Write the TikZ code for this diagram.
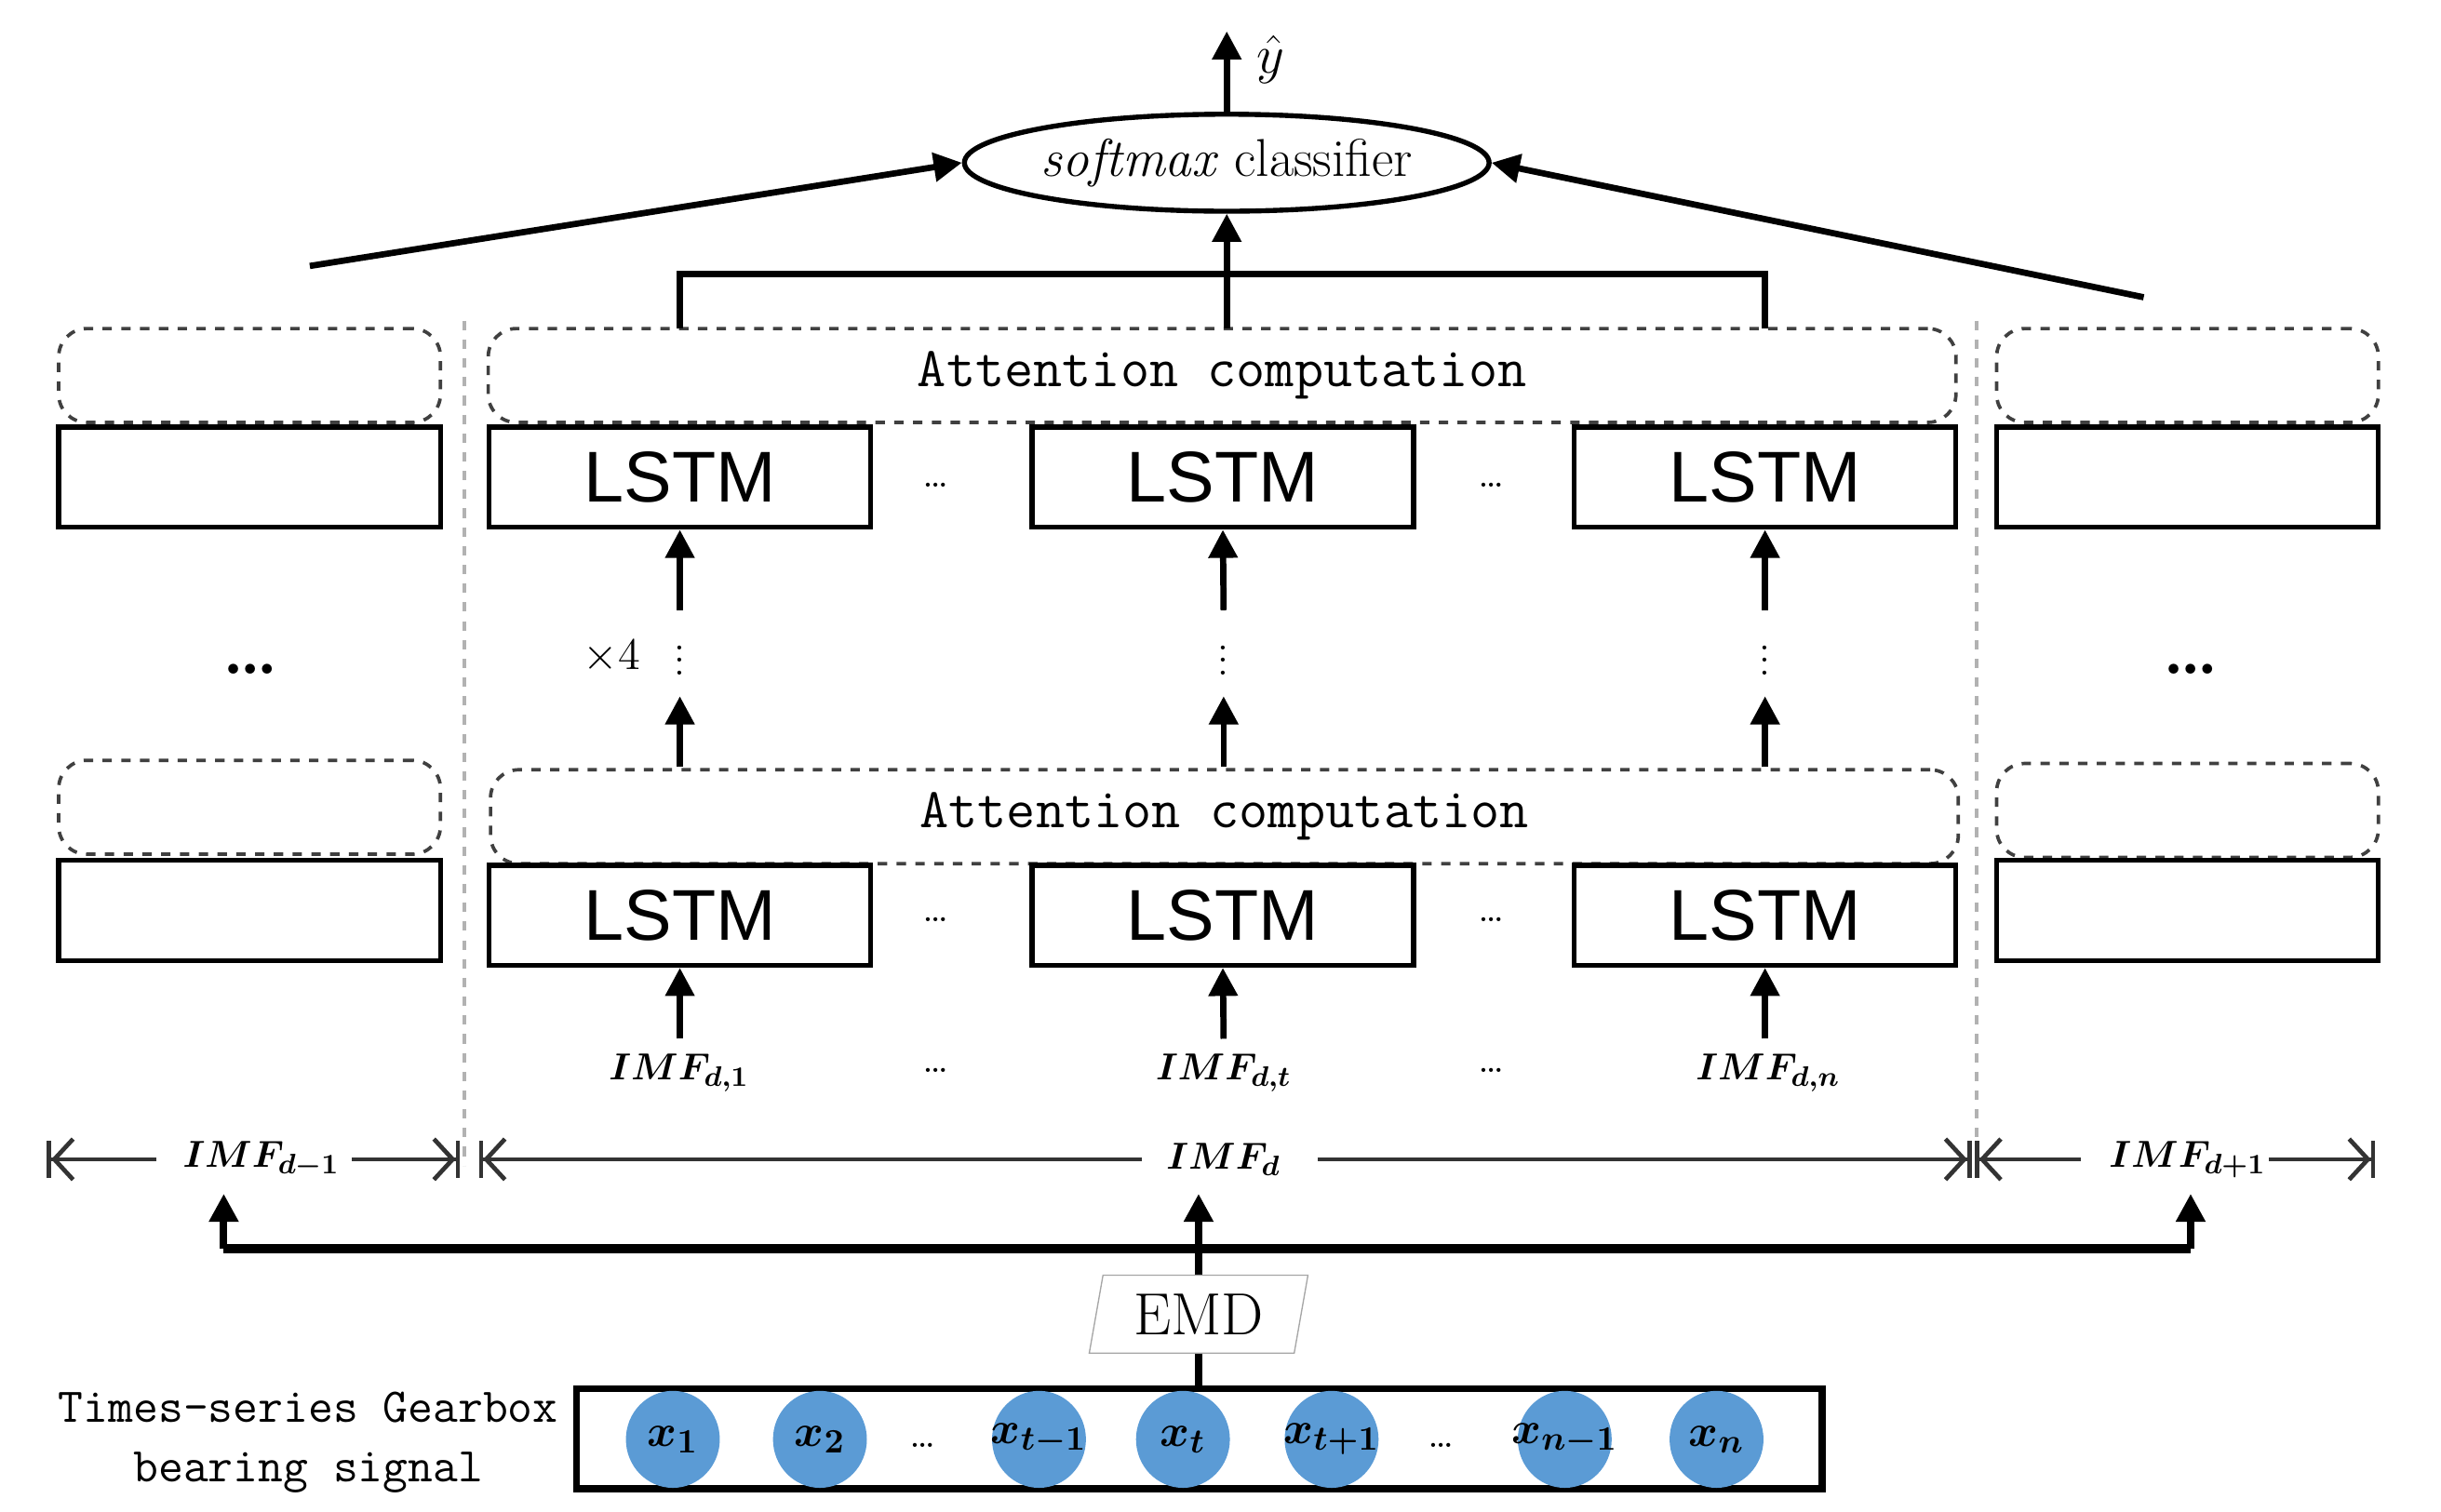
\documentclass[tikz,border=0pt]{standalone}
\usepackage{fontspec}
\usepackage{amsmath,bm}
\newfontfamily\lsans{Liberation Sans}
\usetikzlibrary{arrows.meta,shapes.geometric}
\definecolor{cblue}{HTML}{5B9BD5}
\begin{document}
\begin{tikzpicture}[x=0.5pt,y=-0.5pt,
 blk/.style={draw,line width=1.6pt,minimum width=122pt,minimum height=32pt,inner sep=0pt,font=\lsans\fontsize{23}{23}\selectfont},
 att/.style={draw=black!75,dashed,line width=1.1pt,rounded corners=9pt,inner sep=0pt,font=\ttfamily\fontsize{18}{18}\selectfont},
 arr/.style={-{Triangle[length=9pt,width=9pt]},line width=2pt},
 imf/.style={-{Straight Barb[length=6pt,width=13pt] Bar[width=12pt,sep=-5pt]},line width=1.4pt,draw=black!80},
 xc/.style={ellipse,fill=cblue,minimum width=30pt,minimum height=31pt,inner sep=0pt,font=\fontsize{15}{15}\selectfont},
 lab/.style={font=\fontsize{13}{13}\selectfont}]
\useasboundingbox (0,0) rectangle (1560,966);
% softmax
\node[ellipse,draw,line width=1.6pt,minimum width=162pt,minimum height=31pt,inner sep=0pt,fill=white,font=\fontsize{17}{17}\selectfont] (sm) at (784,104) {\textit{softmax} classifier};
\coordinate (yt) at (784,20);
\draw[arr] (sm.north) -- (yt);
\node[font=\fontsize{18}{18}\selectfont] (yh) at (812,38) {$\hat{y}$};
\coordinate (la) at (198,170); \coordinate (ra) at (1370,190);
\draw[arr] (la) -- (sm.west);
\draw[arr] (ra) -- (sm.east);
% attention boxes
\node[att,minimum width=469pt,minimum height=30pt] (at1) at (781,240) {Attention computation};
\node[att,minimum width=122pt,minimum height=30pt] (atl1) at (159.5,240) {};
\node[att,minimum width=122pt,minimum height=30pt] (atr1) at (1398,240) {};
\node[att,minimum width=469pt,minimum height=30pt] (at2) at (782.5,522) {Attention computation};
\node[att,minimum width=122pt,minimum height=30pt] (atl2) at (159.5,516) {};
\node[att,minimum width=122pt,minimum height=30pt] (atr2) at (1398,518) {};
% LSTM
\foreach \n/\x in {a/434.5,b/781.5,c/1128}{
 \node[blk] (t\n) at (\x,305) {LSTM};
 \node[blk] (b\n) at (\x,585) {LSTM};
}
\node[blk] (tl) at (159.5,305) {}; \node[blk] (tr) at (1398,305) {};
\node[blk] (bl) at (159.5,582) {}; \node[blk] (br) at (1398,582) {};
\foreach \x/\n in {598/1,953/2}{
 \node[font=\fontsize{13}{13}\selectfont] (td\n) at (\x,310) {\dots};
 \node[font=\fontsize{13}{13}\selectfont] (bd\n) at (\x,588) {\dots};
 \node[font=\fontsize{13}{13}\selectfont] (id\n) at (\x,684) {\dots};
}
\node[font=\fontsize{22}{22}\selectfont\bfseries] (ld) at (160,428) {\dots};
\node[font=\fontsize{22}{22}\selectfont\bfseries] (rd) at (1400,428) {\dots};
% bracket to softmax
\coordinate (bka) at (434.5,175); \coordinate (bkc) at (1128,175);
\draw[line width=2pt] (434.5,210) -- (bka) -- (bkc) -- (1128,210);
\draw[arr] (784,210) -- (sm.south);
% vertical arrows and dots
\foreach \n/\x in {a/434.5,b/782,c/1128}{
 \coordinate (u\n) at (\x,390); \coordinate (v\n) at (\x,490);
 \draw[arr] (u\n) -- (t\n.south);
 \draw[arr] (v\n) -- (\x,445);
 \node[font=\fontsize{13}{13}\selectfont] (vd\n) at (\x,416) {$\vdots$};
 \coordinate (w\n) at (\x,664);
 \draw[arr] (w\n) -- (b\n.south);
}
\node[font=\fontsize{14}{14}\selectfont] (x4) at (391,420) {$\times 4$};
\node[lab] (i1) at (434,686) {$\bm{IMF_{d,1}}$};
\node[lab] (it) at (782,686) {$\bm{IMF_{d,t}}$};
\node[lab] (in) at (1130,686) {$\bm{IMF_{d,n}}$};
% dashed separators
\draw[black!30,dashed,line width=1.2pt] (297,205) -- (297,745);
\draw[black!30,dashed,line width=1.2pt] (1263,205) -- (1263,745);
% IMF row
\node[lab] (il) at (167,741) {$\bm{IMF_{d-1}}$};
\node[lab] (ic) at (782,741) {$\bm{IMF_{d}}$};
\node[lab] (ir) at (1398,741) {$\bm{IMF_{d+1}}$};
\draw[imf] (100,741) -- (40,741);
\draw[imf] (225,741) -- (284,741);
\draw[imf] (730,741) -- (316,741);
\draw[imf] (842,741) -- (1250,741);
\draw[imf] (1330,741) -- (1272,741);
\draw[imf] (1450,741) -- (1508,741);
% bus
\coordinate (bl1) at (143,798); \coordinate (br1) at (1400,798);
\draw[line width=3pt] (bl1) -- (br1);
\draw[arr,line width=2.4pt] (bl1) -- (143,763);
\draw[arr,line width=2.4pt] (br1) -- (1400,763);
\draw[arr,line width=2.4pt] (766,888) -- (766,763);
% EMD
\node[trapezium,trapezium left angle=80,trapezium right angle=100,draw=black!35,fill=white,minimum width=70pt,minimum height=20pt,font=\fontsize{19}{19}\selectfont] (emd) at (766,840) {EMD};
% signal
\node[draw,line width=2.2pt,minimum width=398pt,minimum height=32pt,inner sep=0pt] (sig) at (766.5,919.5) {};
\foreach \x/\l/\n in {430/1/1,524/2/2,664/{t-1}/3,756/t/4,851/{t+1}/5,1000/{n-1}/6,1097/n/7}{
 \node[xc] (x\n) at (\x,920) {\makebox[0pt]{$\bm{x_{\l}}$}};
}
\node[font=\fontsize{13}{13}\selectfont] (sd1) at (590,924) {\dots};
\node[font=\fontsize{13}{13}\selectfont] (sd2) at (921,924) {\dots};
\node[font=\ttfamily\fontsize{15.5}{19}\selectfont,align=center] (ts) at (197,922) {Times-series Gearbox\\bearing signal};
\end{tikzpicture}
\end{document}
